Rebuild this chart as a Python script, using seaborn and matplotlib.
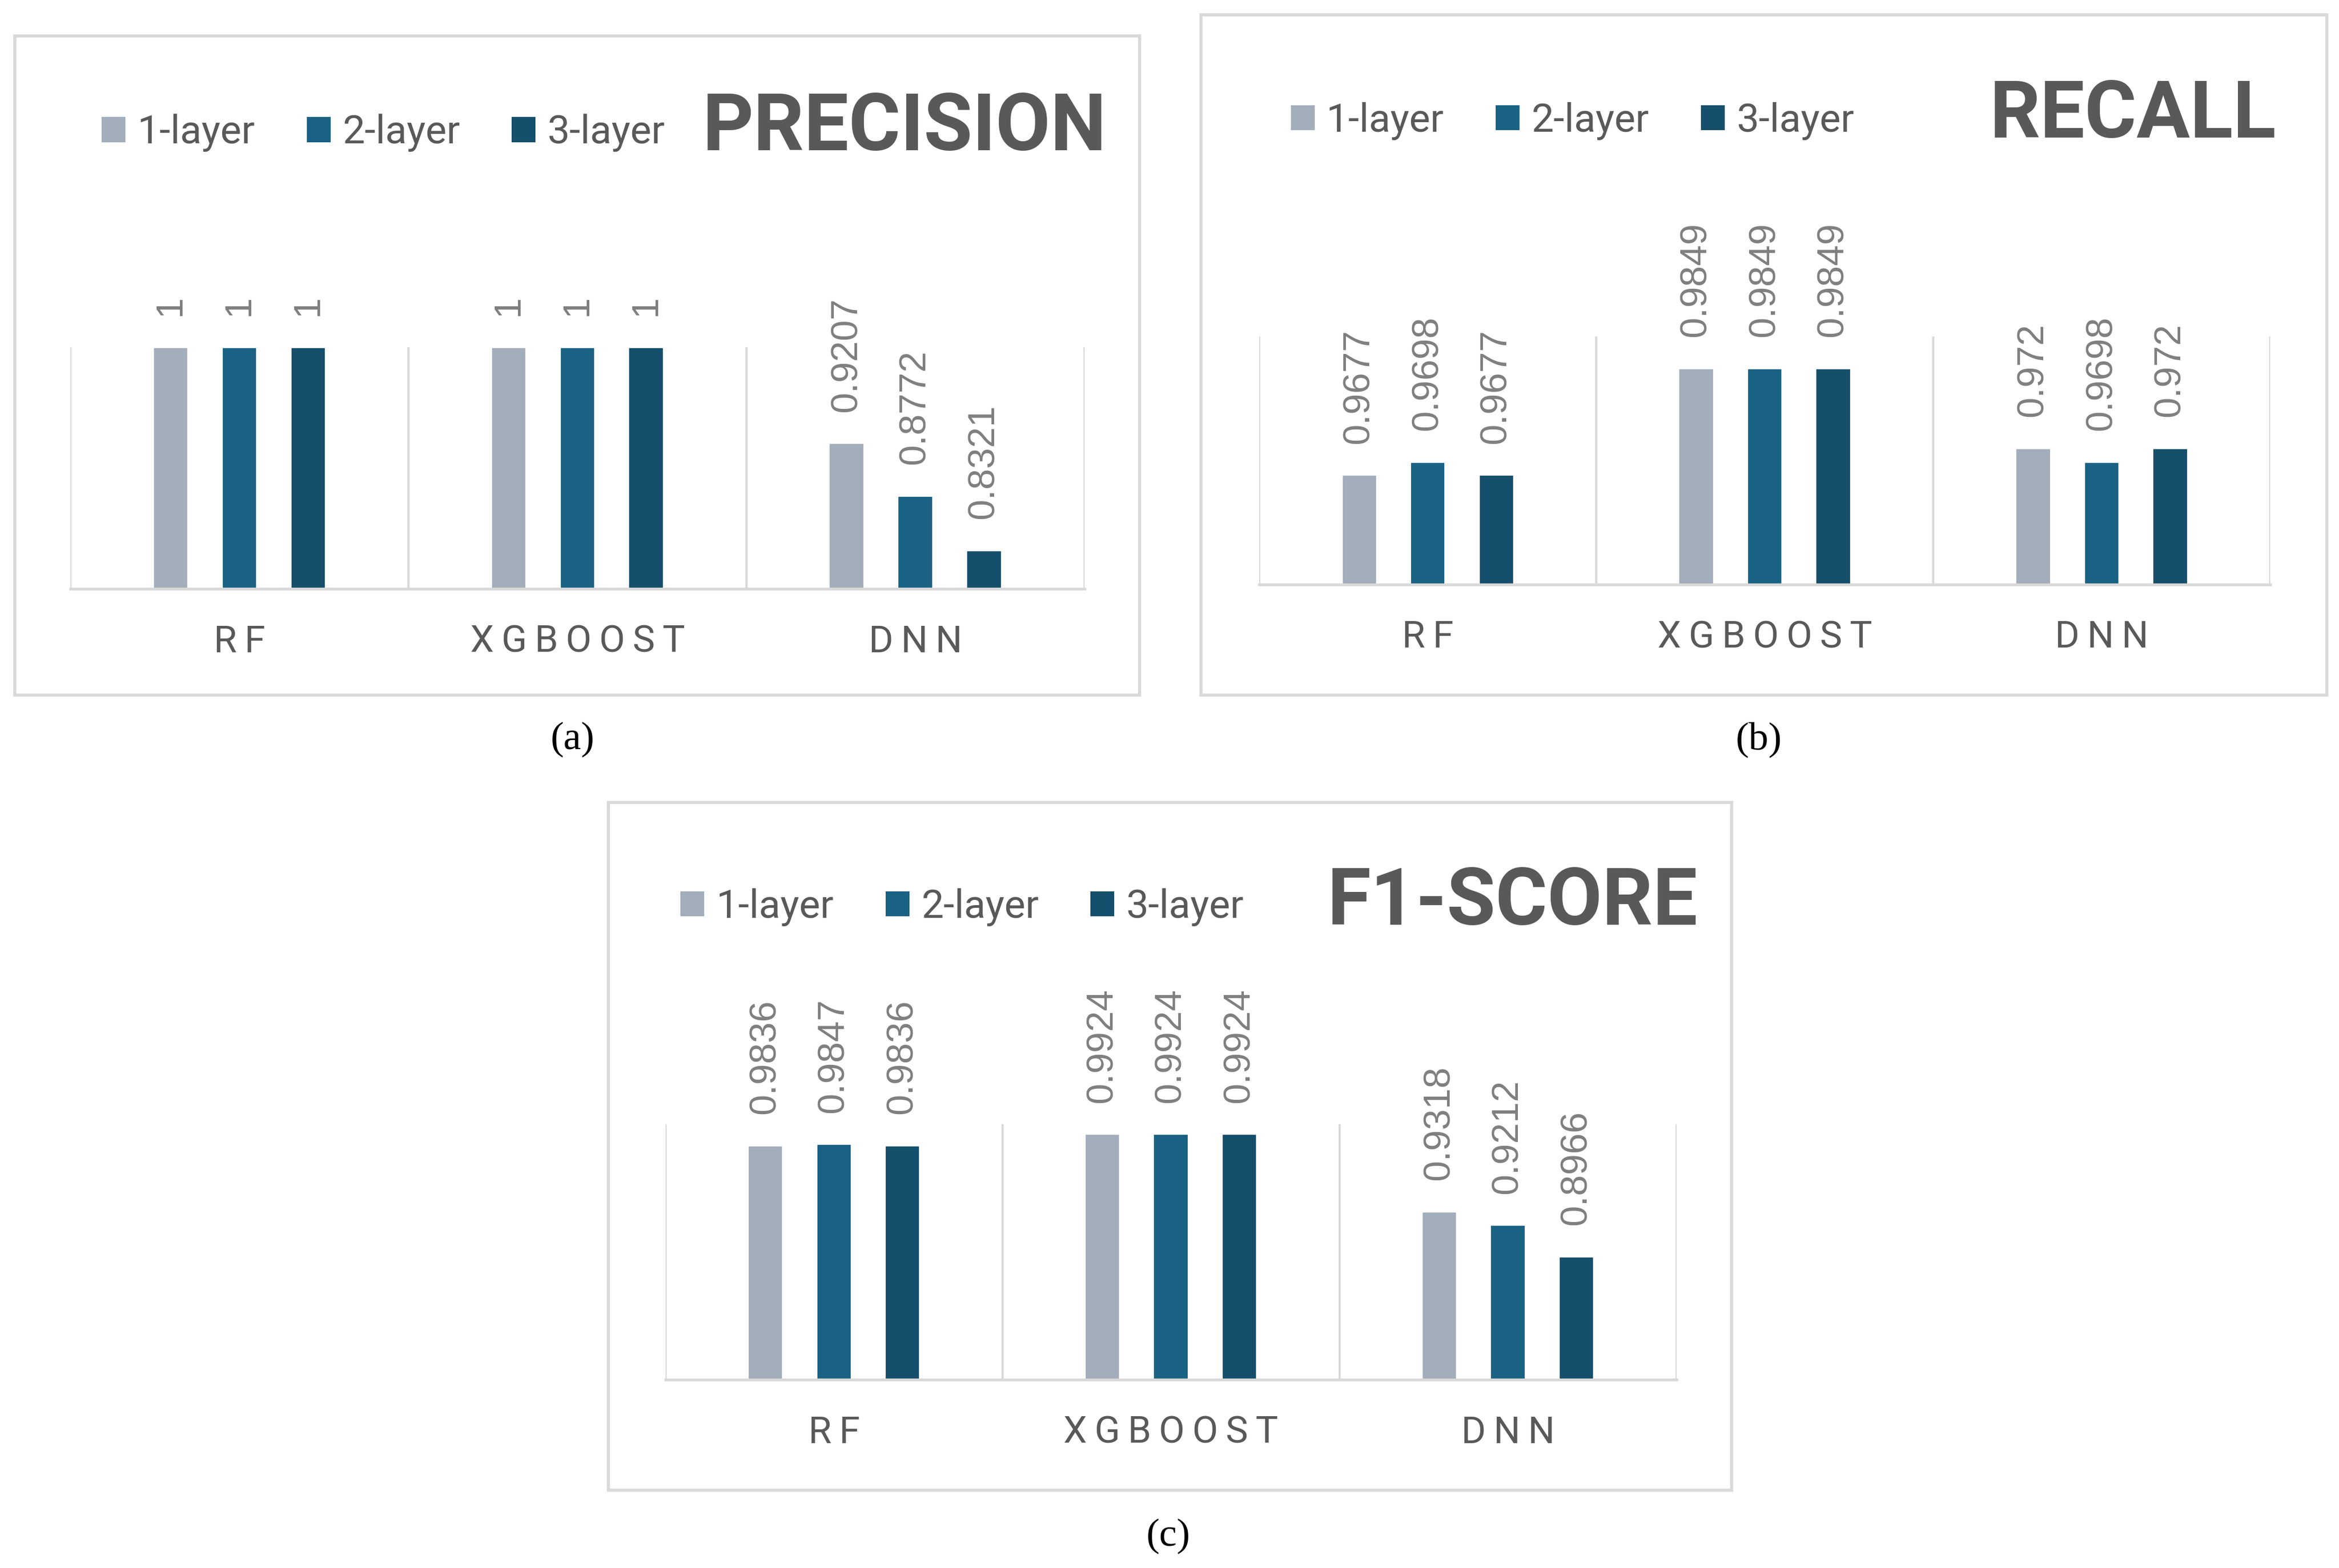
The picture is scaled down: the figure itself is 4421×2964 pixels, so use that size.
import numpy as np
import pandas as pd
import matplotlib.pyplot as plt
import seaborn as sns
from matplotlib.patches import Patch, Rectangle

# ---- data ----
models = ["RF", "XGBOOST", "DNN"]
layers = ["1-layer", "2-layer", "3-layer"]

precision_1 = [1, 1, 0.9207]
precision_2 = [1, 1, 0.8772]
precision_3 = [1, 1, 0.8321]

recall_1 = [0.9677, 0.9849, 0.972]
recall_2 = [0.9698, 0.9849, 0.9698]
recall_3 = [0.9677, 0.9849, 0.972]

f1_1 = [0.9836, 0.9924, 0.9318]
f1_2 = [0.9847, 0.9924, 0.9212]
f1_3 = [0.9836, 0.9924, 0.8966]

colors = ["#A2AEBB", "#1A6283", "#164F6B"]
GRID = "#D9D9D9"
TXT = "#595959"
LBL = "#7F7F7F"


def make_df(s1, s2, s3):
    rows = []
    for lay, vals in zip(layers, [s1, s2, s3]):
        for m, v in zip(models, vals):
            rows.append({"Model": m, "Layers": lay, "Score": v})
    return pd.DataFrame(rows)


sns.set_theme(style="white")
plt.rcParams["font.family"] = ["Roboto", "DejaVu Sans"]

fig = plt.figure(figsize=(4421 / 300, 2964 / 300), dpi=300)

panels = [
    # title, data, ylim, axes rect, box, legend anchor, title pos, caption
    ("PRECISION", make_df(precision_1, precision_2, precision_3), (0.8, 1.0),
     [0.0301, 0.6244, 0.4335, 0.1544], (0.0064, 0.5567, 0.4872, 0.9771),
     (0.0435, 0.9152), (0.4731, 0.9180), ("(a)", 0.2449, 0.5281)),
    ("RECALL", make_df(recall_1, recall_2, recall_3), (0.95, 0.99),
     [0.5384, 0.6273, 0.4322, 0.1582], (0.5134, 0.5567, 0.9949, 0.9905),
     (0.5518, 0.9228), (0.9731, 0.9260), ("(b)", 0.7519, 0.5281)),
    ("F1-SCORE", make_df(f1_1, f1_2, f1_3), (0.8, 1.0),
     [0.2845, 0.1201, 0.4322, 0.1630], (0.2602, 0.0496, 0.7404, 0.4881),
     (0.2909, 0.4214), (0.7257, 0.4240), ("(c)", 0.4994, 0.0200)),
]

for title, df, ylim, rect, box, leg_xy, title_xy, cap in panels:
    ax = fig.add_axes(rect)
    sns.barplot(data=df, x="Model", y="Score", hue="Layers", palette=colors,
                saturation=1, width=0.61, gap=0.48, legend=False, ax=ax)
    ax.set_ylim(*ylim)
    ax.set_xlim(-0.5, len(models) - 0.5)
    ax.set_xlabel("")
    ax.set_ylabel("")
    ax.set_yticks([])
    ax.set_xticks(range(len(models)))
    ax.set_xticklabels(["\u2009".join(m) for m in models], fontsize=17, color=TXT)
    ax.tick_params(axis="x", length=0, pad=16)
    ax.set_xticks(np.arange(len(models) + 1) - 0.5, minor=True)
    ax.tick_params(axis="x", which="minor", length=0)
    ax.grid(True, axis="x", which="minor", color=GRID, lw=1.0)
    ax.grid(False, axis="x", which="major")
    for s in ["top", "left", "right"]:
        ax.spines[s].set_visible(False)
    ax.spines["bottom"].set_color(GRID)
    ax.spines["bottom"].set_linewidth(1.3)

    for c in ax.containers:
        ax.bar_label(c, fmt="{:g}", rotation=90, padding=14, color=LBL,
                     fontsize=17, family="Liberation Sans")

    handles = [Patch(facecolor=col, edgecolor="none", label=lay)
               for col, lay in zip(colors, layers)]
    fig.legend(handles=handles, loc="center left", bbox_to_anchor=leg_xy,
               ncol=3, frameon=False, fontsize=18, handlelength=0.6,
               handleheight=0.6, handletextpad=0.3, columnspacing=1.3,
               borderpad=0, borderaxespad=0, labelcolor=TXT)

    fig.text(title_xy[0], title_xy[1], title, ha="right", va="center",
             fontsize=36, fontweight="bold", color=TXT)

    x0, y0, x1, y1 = box
    fig.patches.append(Rectangle((x0, y0), x1 - x0, y1 - y0, transform=fig.transFigure,
                                 fill=False, edgecolor=GRID, lw=1.4, zorder=0))

    fig.text(cap[1], cap[2], cap[0], ha="center", va="center", fontsize=18,
             color="black", family=["Liberation Serif", "DejaVu Serif"])

fig.savefig("out.png", dpi=300, facecolor="white")
